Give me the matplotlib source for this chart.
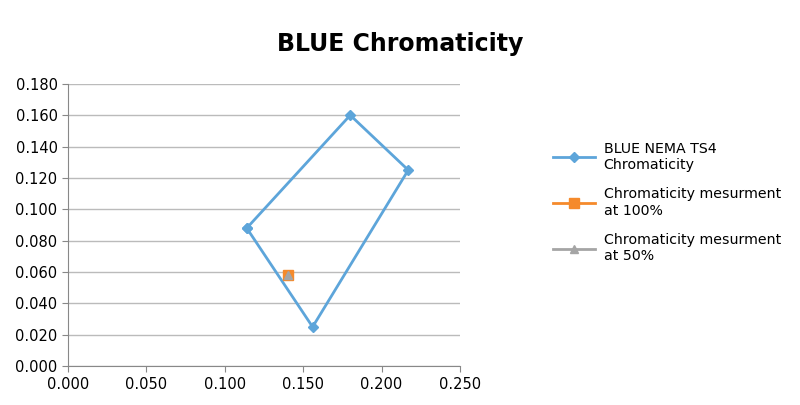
import matplotlib.pyplot as plt

# NEMA TS4 blue region (closed quad)
nema_x = [0.114, 0.180, 0.217, 0.156, 0.114]
nema_y = [0.088, 0.160, 0.125, 0.025, 0.088]
m100_x = [0.140]
m100_y = [0.058]
m50_x = [0.140]
m50_y = [0.058]

fig = plt.figure(figsize=(8, 4.05), dpi=100)
ax = fig.add_axes([0.085, 0.096, 0.49, 0.697])

ax.plot(nema_x, nema_y, color="#5DA5DA", marker="D", markersize=5, lw=2,
        label="BLUE NEMA TS4\nChromaticity")
ax.plot(m100_x, m100_y, color="#F58A2B", marker="s", markersize=7, lw=2,
        label="Chromaticity mesurment\nat 100%")
ax.plot(m50_x, m50_y, color="#A5A5A5", marker="^", markersize=6, lw=2,
        label="Chromaticity mesurment\nat 50%")

ax.set_xlim(0, 0.25)
ax.set_ylim(0, 0.18)
ax.set_xticks([i * 0.05 for i in range(6)])
ax.set_yticks([i * 0.02 for i in range(10)])
ax.xaxis.set_major_formatter(lambda v, p: f"{v:.3f}")
ax.yaxis.set_major_formatter(lambda v, p: f"{v:.3f}")
ax.tick_params(labelsize=10.5, length=4, color="#888888")
ax.grid(axis="y", color="#BBBBBB", lw=1)
ax.set_axisbelow(True)
for s in ["top", "right"]:
    ax.spines[s].set_visible(False)
for s in ["left", "bottom"]:
    ax.spines[s].set_color("#888888")

fig.text(0.5, 0.875, "BLUE Chromaticity", ha="center", fontsize=17, fontweight="bold")
fig.legend(loc="center left", bbox_to_anchor=(0.675, 0.5), frameon=False,
           fontsize=10.2, labelspacing=1.1, handlelength=3.0, handletextpad=0.6)

fig.savefig("out.png", dpi=100)
